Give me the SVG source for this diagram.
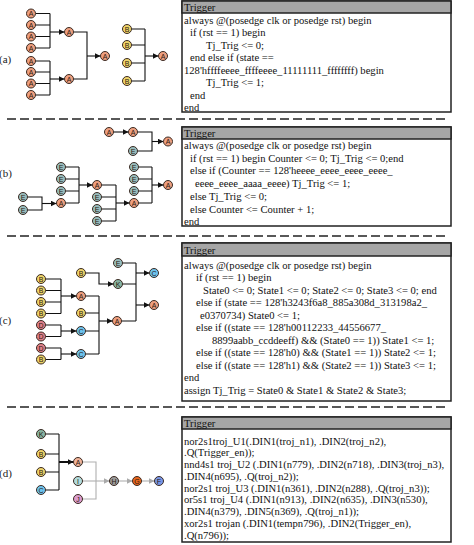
<svg xmlns="http://www.w3.org/2000/svg" width="474" height="545" viewBox="0 0 474 545">
<style>
.n circle{stroke:#3a2a22;stroke-width:1}
.n text{font-family:"Liberation Sans",Arial,sans-serif;font-size:7px;fill:#2a1a10;text-anchor:middle;dominant-baseline:central}
.A{fill:#ee9f7f}.B{fill:#efd46a}.E{fill:#98bcbc}.C{fill:#6ec4ee}.D{fill:#e0808a}.K{fill:#88b4a2}
.I{fill:#b2dcdc}.J{fill:#dc9ccc}.H{fill:#9a9a9a}.G{fill:#e8661e}.F{fill:#7896e6}
.w{fill:none;stroke:#111;stroke-width:1.1}
.g{fill:none;stroke:#b0b0b0;stroke-width:1.1}
.dash{stroke:#222;stroke-width:1.6;stroke-dasharray:9 4}
.box{fill:#fff;stroke:#222;stroke-width:1.5}
.hdr{fill:#a6a6a6;stroke:#222;stroke-width:1.5}
.t{font-family:"Liberation Serif","Times New Roman",serif;font-size:10.6px;fill:#111}
.lab{font-family:"Liberation Serif","Times New Roman",serif;font-size:11px;fill:#222}
</style>
<defs>
<marker id="ar" markerUnits="userSpaceOnUse" markerWidth="6" markerHeight="6" refX="6" refY="3" orient="auto"><path d="M0,0 L6,3 L0,6 z" fill="#111"/></marker>
<marker id="arg" markerUnits="userSpaceOnUse" markerWidth="6" markerHeight="6" refX="6" refY="3" orient="auto"><path d="M0,0 L6,3 L0,6 z" fill="#aaa"/></marker>
</defs>

<!-- separators -->
<g id="separators">
<line class="dash" x1="7" y1="119" x2="446" y2="119"/>
<line class="dash" x1="7" y1="236" x2="446" y2="236"/>
<line class="dash" x1="7" y1="407" x2="446" y2="407"/>
</g>

<!-- section labels -->
<g id="labels">
<text class="lab" x="-1" y="63">(a)</text>
<text class="lab" x="-1" y="177">(b)</text>
<text class="lab" x="-1" y="324">(c)</text>
<text class="lab" x="-1" y="477">(d)</text>
</g>

<!-- connectors -->
<g id="connectors">
<!-- (a) -->
<path class="w" d="M35.5,13.5H50M35.5,25H50M35.5,36.5H50M35.5,48H50M50,13.5V48"/>
<path class="w" d="M50,32H64.5" marker-end="url(#ar)"/>
<path class="w" d="M35.5,61H50M35.5,72H50M35.5,83.5H50M35.5,95H50M50,61V95"/>
<path class="w" d="M50,79H64.5" marker-end="url(#ar)"/>
<path class="w" d="M73.5,32H87V79H73.5"/>
<path class="w" d="M87,56H100.5" marker-end="url(#ar)"/>
<path class="w" d="M131.5,29H145M131.5,45H145M131.5,63H145M131.5,81H145M145,29V81"/>
<path class="w" d="M145,56H158.5" marker-end="url(#ar)"/>
<!-- (b) -->
<path class="w" d="M113.5,132H128.5" marker-end="url(#ar)"/>
<path class="w" d="M137.5,132H152V151H137.5"/>
<path class="w" d="M152,141.5H163.5" marker-end="url(#ar)"/>
<path class="w" d="M27.5,197H42V210H27.5"/>
<path class="w" d="M42,203.5H56.5" marker-end="url(#ar)"/>
<path class="w" d="M65.5,167H79M65.5,179H79M65.5,191H79M65.5,203H79M79,167V203"/>
<path class="w" d="M79,185H92.5" marker-end="url(#ar)"/>
<path class="w" d="M101.5,185H116M101.5,197H116M101.5,209H116M101.5,221H116M116,185V221"/>
<path class="w" d="M116,203H129.5" marker-end="url(#ar)"/>
<path class="w" d="M138.5,167H152M138.5,179H152M138.5,191H152M138.5,203H152M152,167V203"/>
<path class="w" d="M152,185H163.5" marker-end="url(#ar)"/>
<!-- (c) -->
<path class="w" d="M45.5,279H61M45.5,290.5H61M45.5,302H61M45.5,313.5H61M61,279V313.5"/>
<path class="w" d="M61,296H76.5" marker-end="url(#ar)"/>
<path class="w" d="M45.5,325H61M45.5,336.5H61M61,325V336.5"/>
<path class="w" d="M61,331H76.5" marker-end="url(#ar)"/>
<path class="w" d="M45.5,348H61M45.5,359.5H61M61,348V359.5"/>
<path class="w" d="M61,354H76.5" marker-end="url(#ar)"/>
<path class="w" d="M85.5,296H99M85.5,313H99M85.5,331H99M85.5,354H99M99,296V354"/>
<path class="w" d="M99,321H112.5" marker-end="url(#ar)"/>
<path class="w" d="M85.5,273H99V284H113.5" marker-end="url(#ar)"/>
<path class="w" d="M122.5,263H136M122.5,284H136M121.5,321H136M136,263V321"/>
<path class="w" d="M136,273H149.5" marker-end="url(#ar)"/>
<path class="w" d="M136,305H149.5" marker-end="url(#ar)"/>
<!-- (d) -->
<path class="w" d="M45.5,434H59M45.5,454H59M45.5,472H59M45.5,490H59M59,434V490"/>
<path class="w" style="stroke-width:2" d="M59,462H73.5" marker-end="url(#ar)"/>
<path class="g" d="M82.5,462H96V499H82.5"/>
<path class="g" d="M82.5,481H109.5" marker-end="url(#arg)"/>
<path class="g" d="M118.5,481H132.5" marker-end="url(#arg)"/>
<path class="g" d="M141.5,481H154.5" marker-end="url(#arg)"/>
</g>

<!-- nodes (a) -->
<g id="a-A1" class="n"><circle class="A" cx="31" cy="13.5" r="4.5"/><text x="31" y="13.5">A</text></g>
<g id="a-A2" class="n"><circle class="A" cx="31" cy="25" r="4.5"/><text x="31" y="25">A</text></g>
<g id="a-A3" class="n"><circle class="A" cx="31" cy="36.5" r="4.5"/><text x="31" y="36.5">A</text></g>
<g id="a-A4" class="n"><circle class="A" cx="31" cy="48" r="4.5"/><text x="31" y="48">A</text></g>
<g id="a-A5" class="n"><circle class="A" cx="31" cy="61" r="4.5"/><text x="31" y="61">A</text></g>
<g id="a-A6" class="n"><circle class="A" cx="31" cy="72" r="4.5"/><text x="31" y="72">A</text></g>
<g id="a-A7" class="n"><circle class="A" cx="31" cy="83.5" r="4.5"/><text x="31" y="83.5">A</text></g>
<g id="a-A8" class="n"><circle class="A" cx="31" cy="95" r="4.5"/><text x="31" y="95">A</text></g>
<g id="a-A9" class="n"><circle class="A" cx="69" cy="32" r="4.5"/><text x="69" y="32">A</text></g>
<g id="a-A10" class="n"><circle class="A" cx="69" cy="79" r="4.5"/><text x="69" y="79">A</text></g>
<g id="a-A11" class="n"><circle class="A" cx="105" cy="56" r="4.5"/><text x="105" y="56">A</text></g>
<g id="a-B1" class="n"><circle class="B" cx="127" cy="29" r="4.5"/><text x="127" y="29">B</text></g>
<g id="a-B2" class="n"><circle class="B" cx="127" cy="45" r="4.5"/><text x="127" y="45">B</text></g>
<g id="a-B3" class="n"><circle class="B" cx="127" cy="63" r="4.5"/><text x="127" y="63">B</text></g>
<g id="a-B4" class="n"><circle class="B" cx="127" cy="81" r="4.5"/><text x="127" y="81">B</text></g>
<g id="a-A12" class="n"><circle class="A" cx="163" cy="56" r="4.5"/><text x="163" y="56">A</text></g>

<!-- nodes (b) -->
<g id="b-A1" class="n"><circle class="A" cx="109" cy="132" r="4.5"/><text x="109" y="132">A</text></g>
<g id="b-A2" class="n"><circle class="A" cx="133" cy="132" r="4.5"/><text x="133" y="132">A</text></g>
<g id="b-E1" class="n"><circle class="E" cx="133" cy="151" r="4.5"/><text x="133" y="151">E</text></g>
<g id="b-A3" class="n"><circle class="A" cx="168" cy="141.5" r="4.5"/><text x="168" y="141.5">A</text></g>
<g id="b-E2" class="n"><circle class="E" cx="23" cy="197" r="4.5"/><text x="23" y="197">E</text></g>
<g id="b-E3" class="n"><circle class="E" cx="23" cy="210" r="4.5"/><text x="23" y="210">E</text></g>
<g id="b-E4" class="n"><circle class="E" cx="61" cy="167" r="4.5"/><text x="61" y="167">E</text></g>
<g id="b-E5" class="n"><circle class="E" cx="61" cy="179" r="4.5"/><text x="61" y="179">E</text></g>
<g id="b-E6" class="n"><circle class="E" cx="61" cy="191" r="4.5"/><text x="61" y="191">E</text></g>
<g id="b-A4" class="n"><circle class="A" cx="61" cy="203" r="4.5"/><text x="61" y="203">A</text></g>
<g id="b-A5" class="n"><circle class="A" cx="97" cy="185" r="4.5"/><text x="97" y="185">A</text></g>
<g id="b-E7" class="n"><circle class="E" cx="97" cy="197" r="4.5"/><text x="97" y="197">E</text></g>
<g id="b-E8" class="n"><circle class="E" cx="97" cy="209" r="4.5"/><text x="97" y="209">E</text></g>
<g id="b-E9" class="n"><circle class="E" cx="97" cy="221" r="4.5"/><text x="97" y="221">E</text></g>
<g id="b-E10" class="n"><circle class="E" cx="134" cy="167" r="4.5"/><text x="134" y="167">E</text></g>
<g id="b-E11" class="n"><circle class="E" cx="134" cy="179" r="4.5"/><text x="134" y="179">E</text></g>
<g id="b-E12" class="n"><circle class="E" cx="134" cy="191" r="4.5"/><text x="134" y="191">E</text></g>
<g id="b-A6" class="n"><circle class="A" cx="134" cy="203" r="4.5"/><text x="134" y="203">A</text></g>
<g id="b-A7" class="n"><circle class="A" cx="168" cy="185" r="4.5"/><text x="168" y="185">A</text></g>

<!-- nodes (c) -->
<g id="c-B1" class="n"><circle class="B" cx="41" cy="279" r="4.5"/><text x="41" y="279">B</text></g>
<g id="c-B2" class="n"><circle class="B" cx="41" cy="290.5" r="4.5"/><text x="41" y="290.5">B</text></g>
<g id="c-B3" class="n"><circle class="B" cx="41" cy="302" r="4.5"/><text x="41" y="302">B</text></g>
<g id="c-B4" class="n"><circle class="B" cx="41" cy="313.5" r="4.5"/><text x="41" y="313.5">B</text></g>
<g id="c-D1" class="n"><circle class="D" cx="41" cy="325" r="4.5"/><text x="41" y="325">D</text></g>
<g id="c-D2" class="n"><circle class="D" cx="41" cy="336.5" r="4.5"/><text x="41" y="336.5">D</text></g>
<g id="c-D3" class="n"><circle class="D" cx="41" cy="348" r="4.5"/><text x="41" y="348">D</text></g>
<g id="c-B5" class="n"><circle class="B" cx="41" cy="359.5" r="4.5"/><text x="41" y="359.5">B</text></g>
<g id="c-B6" class="n"><circle class="B" cx="81" cy="273" r="4.5"/><text x="81" y="273">B</text></g>
<g id="c-A1" class="n"><circle class="A" cx="81" cy="296" r="4.5"/><text x="81" y="296">A</text></g>
<g id="c-B7" class="n"><circle class="B" cx="81" cy="313" r="4.5"/><text x="81" y="313">B</text></g>
<g id="c-C1" class="n"><circle class="C" cx="81" cy="331" r="4.5"/><text x="81" y="331">C</text></g>
<g id="c-C2" class="n"><circle class="C" cx="81" cy="354" r="4.5"/><text x="81" y="354">C</text></g>
<g id="c-E1" class="n"><circle class="E" cx="118" cy="263" r="4.5"/><text x="118" y="263">E</text></g>
<g id="c-K1" class="n"><circle class="K" cx="118" cy="284" r="4.5"/><text x="118" y="284">K</text></g>
<g id="c-A2" class="n"><circle class="A" cx="117" cy="321" r="4.5"/><text x="117" y="321">A</text></g>
<g id="c-C3" class="n"><circle class="C" cx="154" cy="273" r="4.5"/><text x="154" y="273">C</text></g>
<g id="c-A3" class="n"><circle class="A" cx="154" cy="305" r="4.5"/><text x="154" y="305">A</text></g>

<!-- nodes (d) -->
<g id="d-K" class="n"><circle class="K" cx="41" cy="434" r="4.5"/><text x="41" y="434">K</text></g>
<g id="d-B1" class="n"><circle class="B" cx="41" cy="454" r="4.5"/><text x="41" y="454">B</text></g>
<g id="d-B2" class="n"><circle class="B" cx="41" cy="472" r="4.5"/><text x="41" y="472">B</text></g>
<g id="d-C" class="n"><circle class="C" cx="41" cy="490" r="4.5"/><text x="41" y="490">C</text></g>
<g id="d-A" class="n"><circle class="A" cx="78" cy="462" r="4.5" style="fill:#f2b49a"/><text x="78" y="462">A</text></g>
<g id="d-I" class="n"><circle class="I" cx="78" cy="481" r="4.5"/><text x="78" y="481">I</text></g>
<g id="d-J" class="n"><circle class="J" cx="78" cy="499" r="4.5"/><text x="78" y="499">J</text></g>
<g id="d-H" class="n"><circle class="H" cx="114" cy="481" r="4.5"/><text x="114" y="481">H</text></g>
<g id="d-G" class="n"><circle class="G" cx="137" cy="481" r="4.5"/><text x="137" y="481">G</text></g>
<g id="d-F" class="n"><circle class="F" cx="159" cy="481" r="4.5"/><text x="159" y="481">F</text></g>

<!-- code boxes -->
<g id="box-a">
<rect class="box" x="182" y="1" width="269" height="111"/>
<rect class="hdr" x="182" y="1" width="269" height="12"/>
<text class="t" x="184" y="11">Trigger</text>
<text class="t" x="184" y="23.5">always @(posedge clk or posedge rst) begin</text>
<text class="t" x="190" y="36">if (rst == 1) begin</text>
<text class="t" x="206" y="48.5">Tj_Trig &lt;= 0;</text>
<text class="t" x="190" y="61">end else if (state ==</text>
<text class="t" x="184" y="73.5">128'hffffeeee_ffffeeee_11111111_ffffffff) begin</text>
<text class="t" x="206" y="86">Tj_Trig &lt;= 1;</text>
<text class="t" x="190" y="98.5">end</text>
<text class="t" x="184" y="111">end</text>
</g>

<g id="box-b">
<rect class="box" x="182" y="127" width="269" height="99"/>
<rect class="hdr" x="182" y="127" width="269" height="12"/>
<text class="t" x="184" y="137">Trigger</text>
<text class="t" x="184" y="149">always @(posedge clk or posedge rst) begin</text>
<text class="t" x="190" y="161.7">if (rst == 1) begin Counter &lt;= 0; Tj_Trig &lt;= 0;end</text>
<text class="t" x="190" y="174.4">else if (Counter == 128'heeee_eeee_eeee_eeee_</text>
<text class="t" x="195" y="187.1">eeee_eeee_aaaa_eeee)  Tj_Trig &lt;= 1;</text>
<text class="t" x="190" y="199.8">else Tj_Trig &lt;= 0;</text>
<text class="t" x="190" y="212.5">else Counter &lt;= Counter + 1;</text>
<text class="t" x="184" y="225">end</text>
</g>

<g id="box-c">
<rect class="box" x="182" y="243" width="269" height="158"/>
<rect class="hdr" x="182" y="243" width="269" height="13"/>
<text class="t" x="184" y="254">Trigger</text>
<text class="t" x="184" y="268.5">always @(posedge clk or posedge rst) begin</text>
<text class="t" x="196" y="281">if (rst == 1) begin</text>
<text class="t" x="203" y="293.5">State0 &lt;= 0; State1 &lt;= 0; State2 &lt;= 0; State3 &lt;= 0; end</text>
<text class="t" x="196" y="306">else if (state == 128'h3243f6a8_885a308d_313198a2_</text>
<text class="t" x="200" y="318.5">e0370734) State0 &lt;= 1;</text>
<text class="t" x="196" y="331">else if ((state == 128'h00112233_44556677_</text>
<text class="t" x="212" y="343.5">8899aabb_ccddeeff) &amp;&amp; (State0 == 1)) State1 &lt;= 1;</text>
<text class="t" x="196" y="356">else if ((state == 128'h0) &amp;&amp; (State1 == 1)) State2 &lt;= 1;</text>
<text class="t" x="196" y="368.5">else if ((state == 128'h1) &amp;&amp; (State2 == 1)) State3 &lt;= 1;</text>
<text class="t" x="184" y="381">end</text>
<text class="t" x="184" y="393.5">assign Tj_Trig = State0 &amp; State1 &amp; State2 &amp; State3;</text>
</g>

<g id="box-d">
<rect class="box" x="182" y="417" width="269" height="125"/>
<rect class="hdr" x="182" y="417" width="269" height="12"/>
<text class="t" x="184" y="427">Trigger</text>
<text class="t" x="184" y="444.5">nor2s1troj_U1(.DIN1(troj_n1), .DIN2(troj_n2),</text>
<text class="t" x="184" y="456.2">.Q(Trigger_en));</text>
<text class="t" x="184" y="468">nnd4s1 troj_U2 (.DIN1(n779), .DIN2(n718), .DIN3(troj_n3),</text>
<text class="t" x="184" y="479.7">.DIN4(n695), .Q(troj_n2));</text>
<text class="t" x="184" y="491.5">nor2s1 troj_U3 (.DIN1(n361), .DIN2(n288), .Q(troj_n3));</text>
<text class="t" x="184" y="503.2">or5s1 troj_U4 (.DIN1(n913), .DIN2(n635), .DIN3(n530),</text>
<text class="t" x="184" y="515">.DIN4(n379), .DIN5(n369), .Q(troj_n1));</text>
<text class="t" x="184" y="526.7">xor2s1 trojan (.DIN1(tempn796), .DIN2(Trigger_en),</text>
<text class="t" x="184" y="538.5">.Q(n796));</text>
</g>
</svg>
